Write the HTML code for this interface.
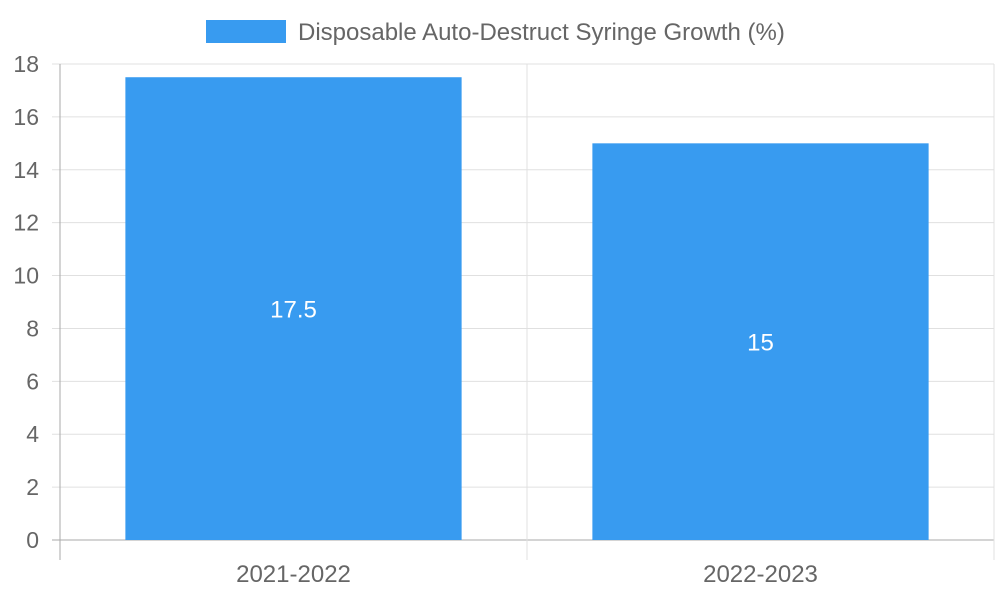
<!DOCTYPE html>
<html><head><meta charset="utf-8"><style>
body{margin:0;background:#fff;font-family:"Liberation Sans",sans-serif;}
svg text{font-family:"Liberation Sans",sans-serif;}
</style></head><body>
<svg id="chart" width="1000" height="600">
<g id="grid"></g>
<g id="bars"></g>
<g id="axes"></g>
<g>
<rect x="206" y="20" width="80" height="23" fill="#389bf0"/>
<text x="298" y="40" font-size="24" fill="#666">Disposable Auto-Destruct Syringe Growth (%)</text>
</g>
</svg>
<script>
const categories = ["2021-2022", "2022-2023"];
const values = [17.5, 15];
const yTicks = [0, 2, 4, 6, 8, 10, 12, 14, 16, 18];
const NS = "http://www.w3.org/2000/svg";
const pLeft = 60, pRight = 994, pTop = 64, pBottom = 540, yMax = 18;
const yScale = v => pBottom - (v / yMax) * (pBottom - pTop);
const band = (pRight - pLeft) / categories.length;
const xScale = i => pLeft + band * i;
function mk(tag, attrs, parent){const e=document.createElementNS(NS,tag);for(const k in attrs)e.setAttribute(k,attrs[k]);parent.appendChild(e);return e;}
const gridG = document.getElementById('grid'), barsG = document.getElementById('bars'), axesG = document.getElementById('axes');
yTicks.forEach(t => {
  const l = mk('line', {x1:52, x2:pRight, y1:yScale(t), y2:yScale(t), stroke: t===0?'#aaa':'#e0e0e0', 'stroke-width':1}, gridG);
  
  
  const tx = mk('text', {x:39, y:yScale(t)+8, 'text-anchor':'end', 'font-size':23, fill:'#666'}, axesG);
  tx.textContent = t;
  
  
});
for (let i = 0; i <= categories.length; i++) {
  const l = mk('line', {x1:xScale(i), x2:xScale(i), y1:pTop, y2:560, stroke: i===0?'#aaa':'#e0e0e0', 'stroke-width':1}, gridG);
  
  
}
categories.forEach((c, i) => {
  const bw = band * 0.72, bx = xScale(i) + (band - bw) / 2;
  const r = mk('rect', {x:bx, y:yScale(values[i]), width:bw, height:pBottom - yScale(values[i]), fill:'#389bf0'}, barsG);
  
  
  const v = mk('text', {x:bx + bw/2, y:(yScale(values[i]) + pBottom)/2 + 9, 'text-anchor':'middle', 'font-size':24, fill:'#fff'}, barsG);
  v.textContent = values[i];
  
  
  const t = mk('text', {x:xScale(i) + band/2, y:582, 'text-anchor':'middle', 'font-size':24, fill:'#666'}, axesG);
  t.textContent = c;
  
  
});
</script>
</body></html>
